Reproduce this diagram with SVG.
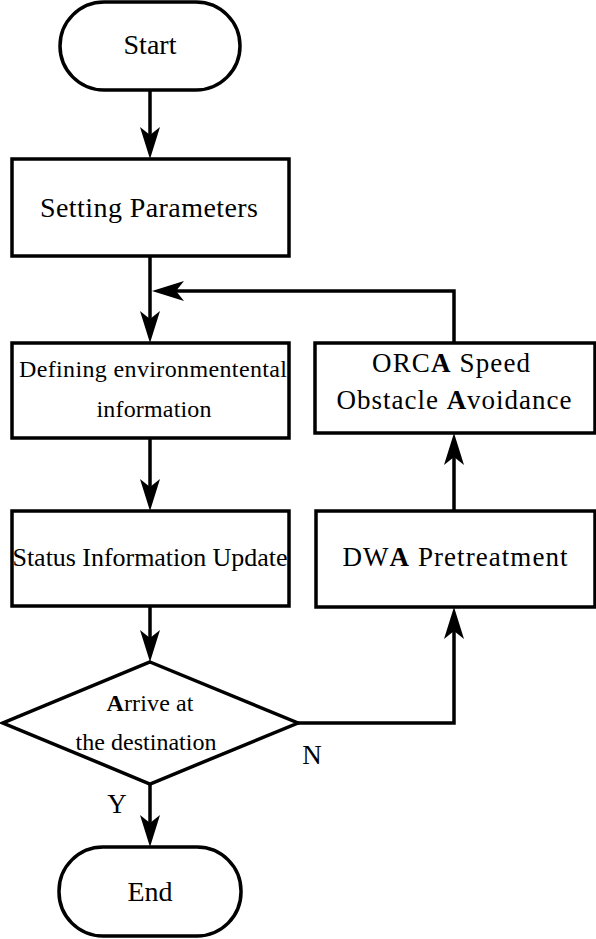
<svg xmlns="http://www.w3.org/2000/svg" width="596" height="939" viewBox="0 0 596 939">
<style>
.shape{fill:#fff;stroke:#000;stroke-width:3.5}
.conn{fill:none;stroke:#000;stroke-width:3.5}
text{font-family:"Liberation Serif","Times New Roman",serif;fill:#000;text-anchor:middle}
.b{font-weight:bold}
</style>
<defs>
<marker id="arr" markerUnits="userSpaceOnUse" markerWidth="34" markerHeight="24" viewBox="0 -12 34 24" refX="24" refY="0" orient="auto" overflow="visible">
<path d="M0,-10 L32,0 L0,10 L8,0 Z" fill="#000"/>
</marker>
</defs>
<rect width="596" height="939" fill="#fff"/>
<g id="connectors">
<path class="conn" d="M150,90 V151" marker-end="url(#arr)"/>
<path class="conn" d="M150,256 V335" marker-end="url(#arr)"/>
<path class="conn" d="M454,343 V291 H160" marker-end="url(#arr)"/>
<path class="conn" d="M150,438 V503" marker-end="url(#arr)"/>
<path class="conn" d="M150,606 V654" marker-end="url(#arr)"/>
<path class="conn" d="M150,784 V839" marker-end="url(#arr)"/>
<path class="conn" d="M298,723 H454 V615" marker-end="url(#arr)"/>
<path class="conn" d="M454,511 V441" marker-end="url(#arr)"/>
</g>
<g id="start">
<rect class="shape" x="60" y="2" width="180" height="88" rx="44" ry="44"/>
<text x="150" y="54" font-size="28">Start</text>
</g>
<g id="setting">
<rect class="shape" x="12" y="159" width="277" height="97"/>
<text x="149" y="217" font-size="28" textLength="218" lengthAdjust="spacing">Setting Parameters</text>
</g>
<g id="defining">
<rect class="shape" x="12" y="343" width="277" height="95"/>
<text x="153" y="377" font-size="24" textLength="268" lengthAdjust="spacing">Defining environmentental</text>
<text x="154" y="417" font-size="24" textLength="115" lengthAdjust="spacing">information</text>
</g>
<g id="status">
<rect class="shape" x="12" y="511" width="277" height="95"/>
<text x="150" y="566" font-size="26" textLength="275" lengthAdjust="spacing">Status Information Update</text>
</g>
<g id="decision">
<polygon class="shape" points="150,662 298,723 150,784 3,723"/>
<text x="150" y="711" font-size="24" textLength="87" lengthAdjust="spacing"><tspan class="b">A</tspan>rrive at</text>
<text x="146" y="750" font-size="24" textLength="141" lengthAdjust="spacing">the destination</text>
</g>
<g id="dwa">
<rect class="shape" x="316" y="511" width="279" height="96"/>
<text x="455" y="566" font-size="27" textLength="225" lengthAdjust="spacing">DW<tspan class="b">A</tspan> Pretreatment</text>
</g>
<g id="orca">
<rect class="shape" x="315" y="343" width="280" height="90"/>
<text x="451" y="372" font-size="27" textLength="158" lengthAdjust="spacing">ORC<tspan class="b">A</tspan> Speed</text>
<text x="454" y="409" font-size="27" textLength="235" lengthAdjust="spacing">Obstacle <tspan class="b">A</tspan>voidance</text>
</g>
<g id="end">
<rect class="shape" x="59" y="847" width="182" height="89" rx="44" ry="44"/>
<text x="150" y="901" font-size="28">End</text>
</g>
<g id="labels">
<text x="312" y="764" font-size="27">N</text>
<text x="117" y="813" font-size="27">Y</text>
</g>
</svg>
